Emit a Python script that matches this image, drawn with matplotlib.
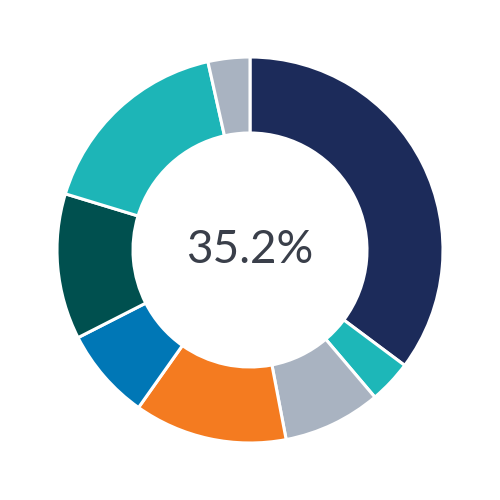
import matplotlib
matplotlib.use("Agg")
import matplotlib.pyplot as plt

# slice shares, clockwise from 12 o'clock
shares = [35.2, 3.6, 8.2, 12.8, 7.7, 12.2, 16.8, 3.5]
colors = [
    "#1c2b5a",
    "#1db7b8",
    "#a9b3c1",
    "#f47b20",
    "#0077b6",
    "#00504f",
    "#1db5b7",
    "#a9b3c1",
]
center_label = "35.2%"

fig = plt.figure(figsize=(5, 5), dpi=100)
ax = fig.add_axes([0, 0, 1, 1])
ax.pie(
    shares,
    colors=colors,
    startangle=90,
    counterclock=False,
    radius=0.772,
    wedgeprops=dict(width=0.304, edgecolor="white", linewidth=2.2),
)
ax.text(0, 0, center_label, ha="center", va="center", fontsize=33,
        family=["Lato", "DejaVu Sans"], color="#3a3f4a")
ax.set_xlim(-1, 1)
ax.set_ylim(-1, 1)
ax.set_aspect("equal")
ax.axis("off")
fig.savefig("out.png", dpi=100, facecolor="white")
